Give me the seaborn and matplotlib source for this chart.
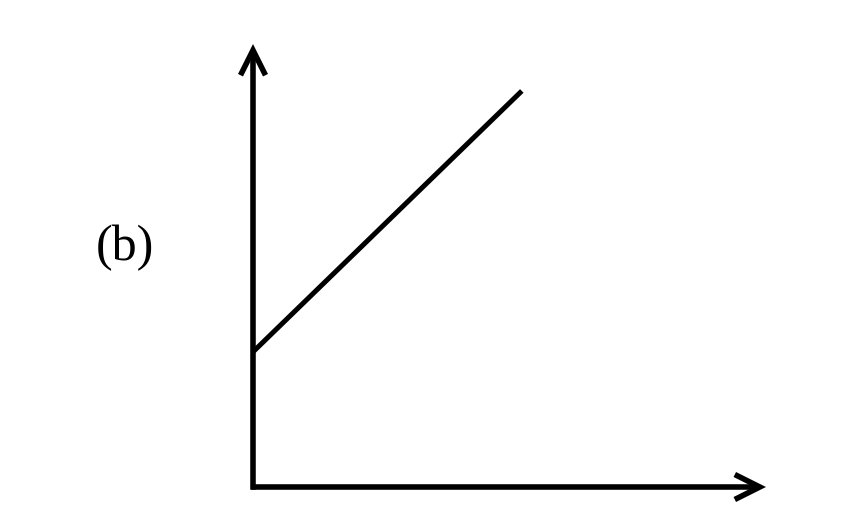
import matplotlib
matplotlib.use("Agg")
import matplotlib.pyplot as plt
import seaborn as sns
import pandas as pd

# Data (schematic straight line with positive intercept)
line_x = [0.0, 5.24]
line_y = [3.05, 8.94]
panel_label = "(b)"

sns.set_theme(style="white")

fig = plt.figure(figsize=(8.53, 5.19), dpi=100)
ax = fig.add_axes([253/853, 32/519, 513/853, 443/519])
ax.set_xlim(0, 10)
ax.set_ylim(0, 10)
for s in ax.spines.values():
    s.set_visible(False)
ax.set_xticks([])
ax.set_yticks([])
ax.patch.set_alpha(0)

df = pd.DataFrame({"x": line_x, "y": line_y})
sns.lineplot(data=df, x="x", y="y", ax=ax, color="black", linewidth=3.6,
             solid_capstyle="butt")
ax.set_xlabel("")
ax.set_ylabel("")

# axes with open arrowheads
arrow_kw = dict(arrowstyle="->,head_length=0.9,head_width=0.45", color="black",
                lw=4.0, shrinkA=0, shrinkB=0, mutation_scale=20,
                joinstyle="miter", capstyle="butt")
ax.annotate("", xy=(0, 10), xytext=(0, -0.06), xycoords="data",
            arrowprops=arrow_kw, annotation_clip=False)
ax.annotate("", xy=(10, 0), xytext=(-0.04, 0), xycoords="data",
            arrowprops=arrow_kw, annotation_clip=False)

fig.text(125/853, 1 - 248/519, panel_label, ha="center", va="center",
         fontsize=36, family=["Liberation Serif", "DejaVu Serif"], color="black")

fig.savefig("out.png", dpi=100, facecolor="white")
